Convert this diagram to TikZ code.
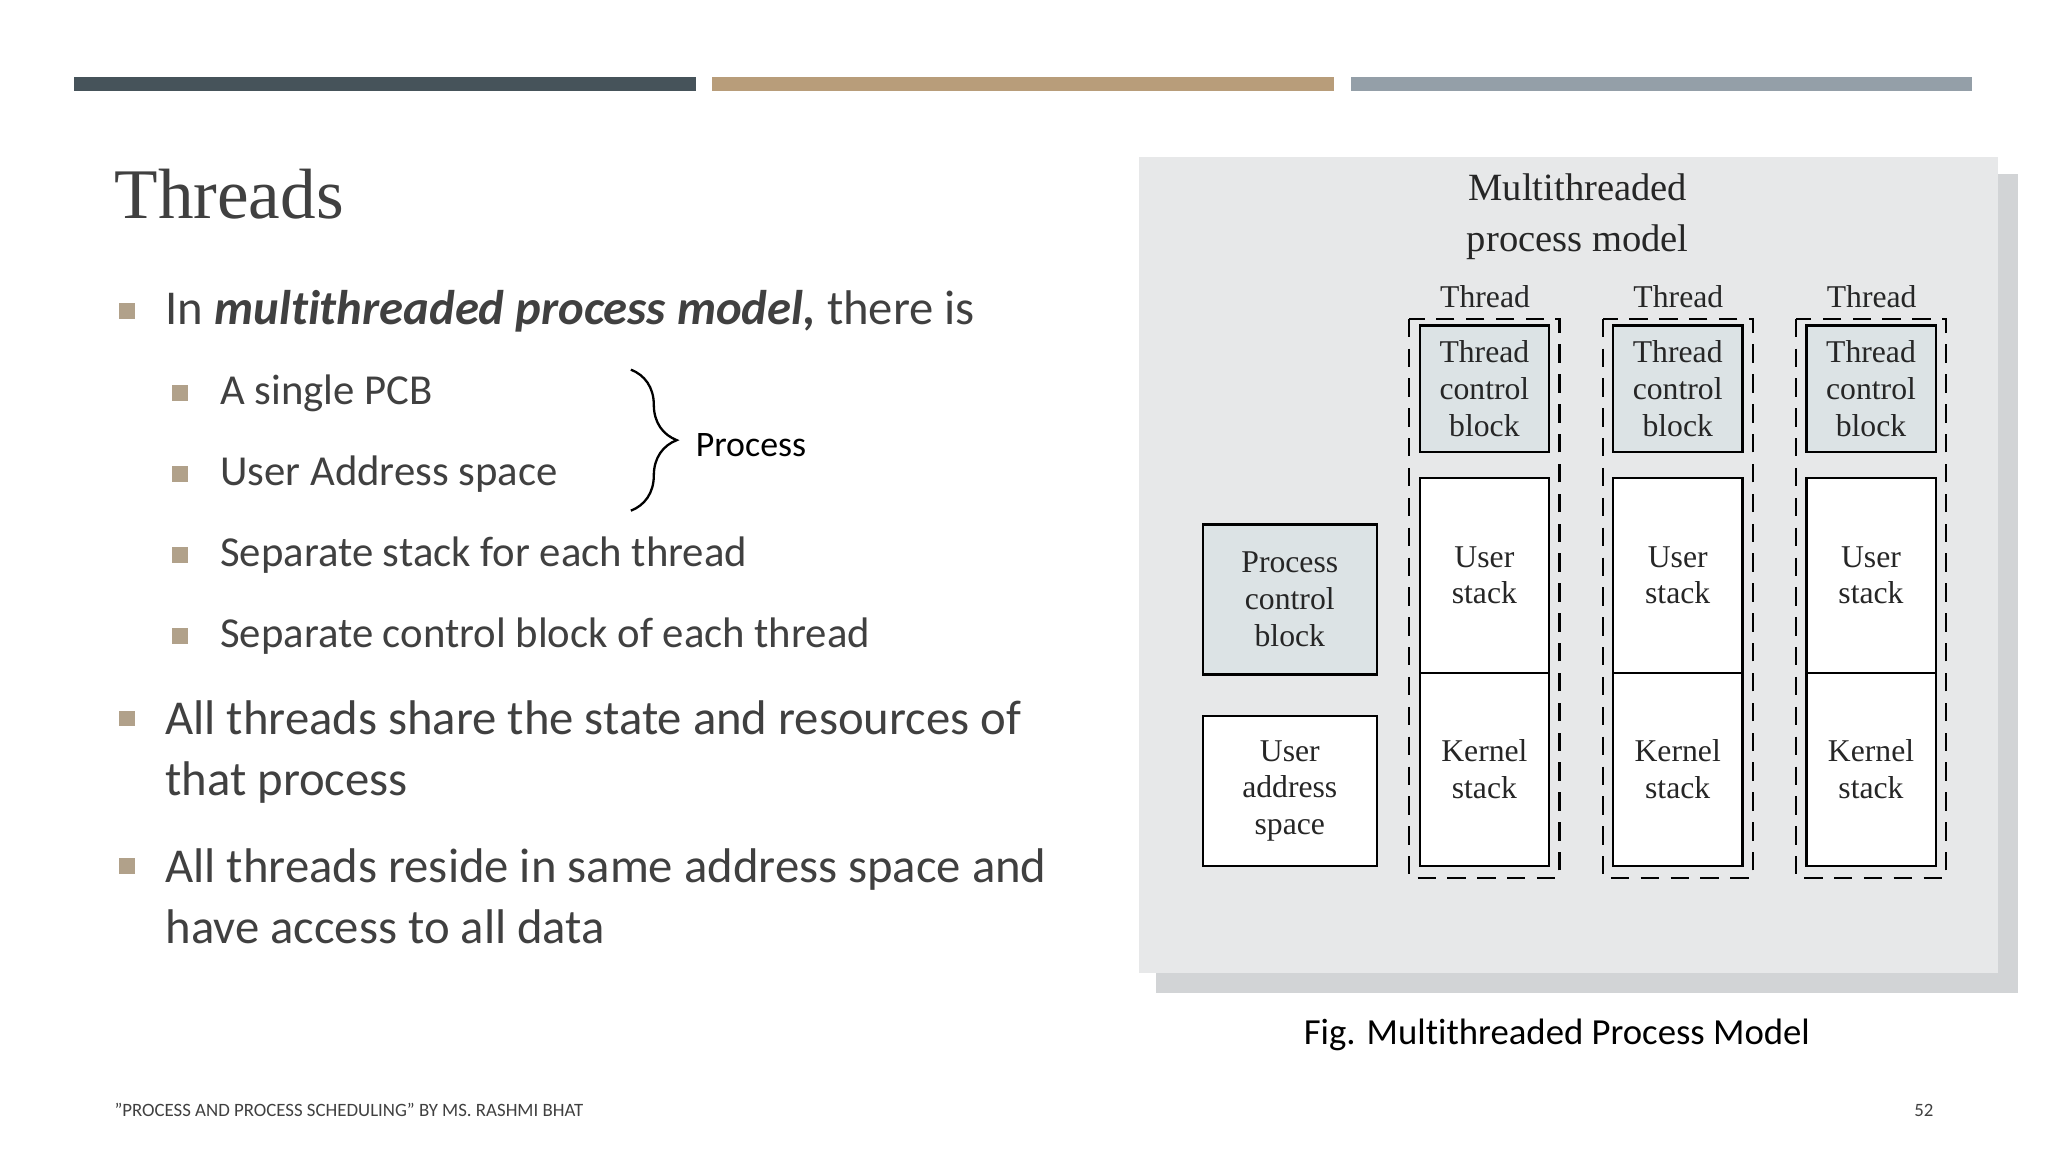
\documentclass[tikz,border=0pt]{standalone}
\usepackage{fontspec}
\setmainfont{Carlito}[Ligatures=NoCommon]
\newfontfamily\serifA{Liberation Serif}
\usetikzlibrary{decorations.pathreplacing}
\definecolor{barA}{HTML}{46535A}
\definecolor{barB}{HTML}{B89D7A}
\definecolor{barC}{HTML}{949FA8}
\definecolor{panel}{HTML}{E7E8E9}
\definecolor{shadowc}{HTML}{D2D4D6}
\definecolor{boxfill}{HTML}{DCE3E5}
\definecolor{txt}{HTML}{404040}
\definecolor{bul}{HTML}{B1A18A}
\begin{document}
\begin{tikzpicture}[x=0.01cm,y=-0.01cm,
  bx/.style={draw=black,line width=0.5pt},
  dtext/.style={font=\serifA\fontsize{6.9}{8}\selectfont,align=center,text=black!85},
  lvA/.style={anchor=west,inner sep=0pt,font=\fontsize{10.6}{13.2}\selectfont,text=txt,align=left},
  lvB/.style={anchor=west,inner sep=0pt,font=\fontsize{9.3}{11}\selectfont,text=txt}]
\useasboundingbox (0,0) rectangle (1568,882);
\fill[white] (0,0) rectangle (1568,882);
% bars
\fill[barA] (57,59) rectangle (533,70);
\fill[barB] (545,59) rectangle (1021,70);
\fill[barC] (1034,59) rectangle (1510,70);
% title
\node[anchor=west,inner sep=0pt,font=\serifA\fontsize{15.5}{16}\selectfont,text=txt] (title) at (87,149) {Threads};
% bullets
\fill[bul] (91,232) rectangle (103,244);
\node[lvA] (b1) at (126,238) {In \textbf{\textit{multithreaded process model,}} there is};
\foreach \y/\t [count=\i] in {301/A single PCB,363/User Address space,425/Separate stack for each thread,487/Separate control block of each thread}{
  \fill[bul] (132,\y-6) rectangle (144,\y+6);
  \node[lvB] (s\i) at (168,\y) {\t};
}
\draw[line width=0.5pt,decorate,decoration={brace,amplitude=10}] (483,283) -- (483,391);
\node[anchor=west,inner sep=0pt,font=\fontsize{7.8}{10}\selectfont] (proc) at (532,341) {Process};
\fill[bul] (91,544) rectangle (103,556);
\node[lvA,anchor=north west] (b2) at (126,536) {All threads share the state and resources of\\that process};
\fill[bul] (91,657) rectangle (103,669);
\node[lvA,anchor=north west] (b3) at (126,649) {All threads reside in same address space and\\have access to all data};
% panel
\fill[shadowc] (885,133) rectangle (1545,760);
\fill[panel] (872,120) rectangle (1530,745);
\node[dtext,font=\serifA\fontsize{8.4}{11}\selectfont] (mt) at (1208,166) {Multithreaded\\process model};
\node[bx,fill=boxfill,minimum width=133*0.01cm,minimum height=115*0.01cm,dtext] (pcb) at (987.5,459) {Process\\control\\block};
\node[bx,fill=white,minimum width=133*0.01cm,minimum height=115*0.01cm,dtext] (uas) at (987.5,605.5) {User\\address\\space};
\foreach \dx [count=\i] in {0,148,296}{
  \draw[dash pattern=on 4pt off 2.5pt,line width=0.45pt] (1079+\dx,244) rectangle (1194+\dx,672);
  \node[dtext] (th\i) at (1137+\dx,227) {Thread};
  \node[bx,fill=boxfill,minimum width=99*0.01cm,minimum height=89*0.01cm,dtext] (tcb\i) at (1136.5+\dx,297.5) {Thread\\control\\block};
  \node[bx,fill=white,minimum width=99*0.01cm,minimum height=149*0.01cm,dtext] (us\i) at (1136.5+\dx,440.5) {User\\stack};
  \node[bx,fill=white,minimum width=99*0.01cm,minimum height=148*0.01cm,dtext] (ks\i) at (1136.5+\dx,589) {Kernel\\stack};
}
\node[font=\fontsize{8}{10}\selectfont] (cap) at (1192,792) {Fig. Multithreaded Process Model};
\node[anchor=west,inner sep=0pt,font=\fontsize{4.1}{5}\selectfont,text=txt] (foot) at (87,850) {"PROCESS AND PROCESS SCHEDULING" BY MS. RASHMI BHAT};
\node[font=\fontsize{4.1}{5}\selectfont,text=txt] (pg) at (1473,850) {52};
\end{tikzpicture}
\end{document}
